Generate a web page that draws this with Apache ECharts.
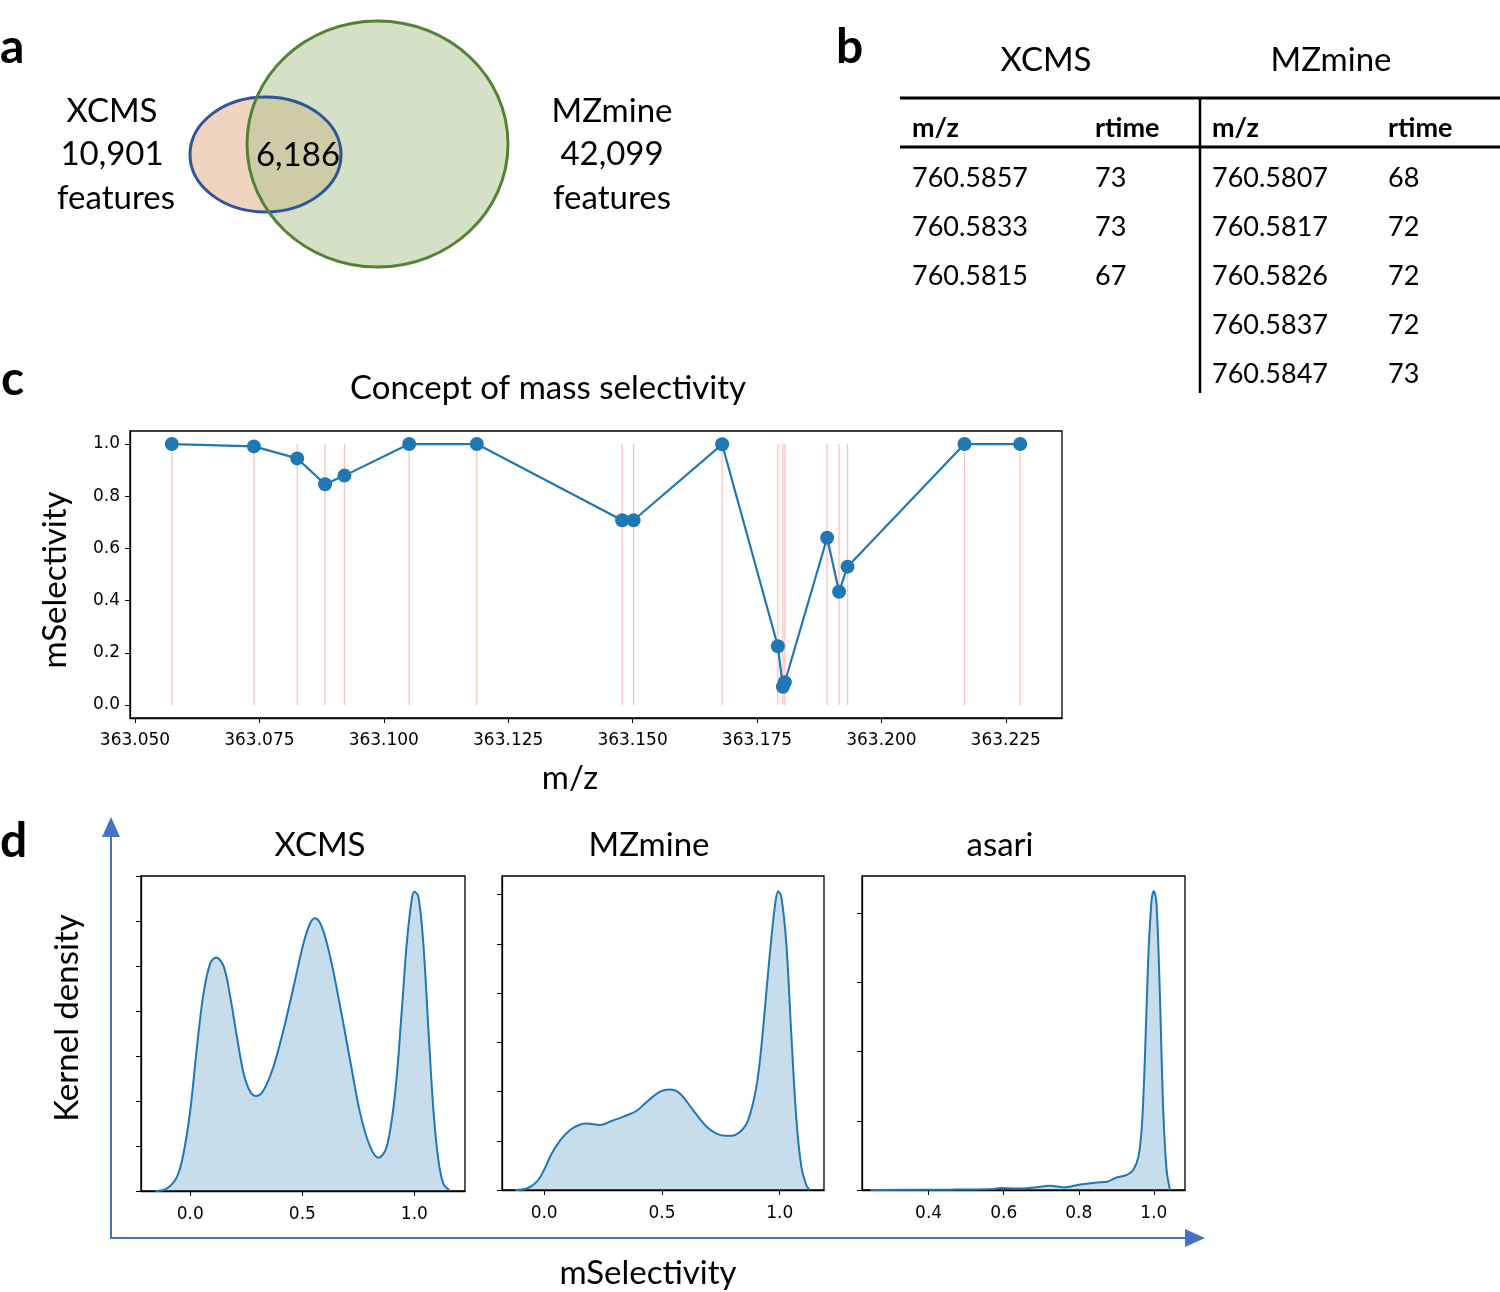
<!DOCTYPE html>
<html>
<head>
<meta charset="utf-8">
<script src="https://cdn.jsdelivr.net/npm/echarts@6/dist/echarts.min.js"></script>
<style>
html,body{margin:0;padding:0;background:#fff;}
#main{width:1500px;height:1292px;}
</style>
</head>
<body>
<div id="main"></div>
<script>
// ---------- Panel a: Venn ----------
const vennNames = ['XCMS', 'MZmine'];
const vennTotals = ['10,901', '42,099'];
const vennOverlap = '6,186';

// ---------- Panel b: table ----------
const tableGroups = ['XCMS', 'MZmine'];
const tableColumns = ['m/z', 'rtime'];
const xcmsMz = ['760.5857', '760.5833', '760.5815'];
const xcmsRt = ['73', '73', '67'];
const mzmineMz = ['760.5807', '760.5817', '760.5826', '760.5837', '760.5847'];
const mzmineRt = ['68', '72', '72', '72', '73'];

// ---------- Panel c: mass selectivity ----------
const selMz = [363.0574, 363.0739, 363.0826, 363.0882, 363.0921, 363.1051, 363.1187,
               363.1479, 363.1502, 363.1680, 363.1792, 363.1802, 363.1806,
               363.1891, 363.1915, 363.1932, 363.2167, 363.2279];
const selValue = [1.0, 0.991, 0.945, 0.846, 0.879, 1.0, 1.0,
                  0.708, 0.708, 0.999, 0.225, 0.070, 0.087,
                  0.641, 0.434, 0.530, 1.0, 1.0];
const mzTicks = [363.050, 363.075, 363.100, 363.125, 363.150, 363.175, 363.200, 363.225];
const selTicks = [0.0, 0.2, 0.4, 0.6, 0.8, 1.0];

// ---------- Panel d: kernel densities ----------
const xcmsKdeX = [-0.156, -0.104, -0.059, -0.03, 0.0, 0.030, 0.059, 0.089, 0.116, 0.149, 0.178, 0.208, 0.238, 0.267, 0.293,
  0.327, 0.371, 0.416, 0.461, 0.505, 0.535, 0.557, 0.587, 0.624, 0.669, 0.713, 0.758, 0.802, 0.840,
  0.877, 0.914, 0.944, 0.966, 0.988, 1.0, 1.018, 1.040, 1.062, 1.085, 1.107, 1.129, 1.156];
const xcmsKdeY = [0, 0.06, 0.32, 0.84, 1.8, 3.21, 4.39, 5.06, 5.19, 4.99, 4.32, 3.43, 2.61, 2.21, 2.11,
  2.24, 2.76, 3.58, 4.54, 5.50, 5.95, 6.06, 5.87, 5.21, 4.10, 2.91, 1.73, 0.99, 0.74,
  0.99, 2.17, 4.02, 5.50, 6.47, 6.65, 6.54, 5.50, 3.65, 1.80, 0.69, 0.17, 0.02];
const mzmineKdeX = [-0.123, -0.073, -0.031, 0.0, 0.032, 0.068, 0.110, 0.153, 0.181, 0.237, 0.280, 0.336, 0.393, 0.435,
  0.492, 0.534, 0.576, 0.633, 0.689, 0.746, 0.788, 0.831, 0.866, 0.901, 0.922, 0.944, 0.965, 0.983,
  0.994, 1.007, 1.028, 1.049, 1.071, 1.092, 1.113, 1.127];
const mzmineKdeY = [0, 0.03, 0.17, 0.41, 0.74, 1.01, 1.22, 1.33, 1.35, 1.32, 1.39, 1.49, 1.61, 1.79,
  2.0, 2.04, 1.96, 1.62, 1.29, 1.12, 1.10, 1.18, 1.42, 2.10, 2.91, 4.06, 5.14, 5.89,
  6.07, 5.95, 5.01, 3.18, 1.42, 0.47, 0.10, 0];
const asariKdeX = [0.245, 0.458, 0.573, 0.591, 0.635, 0.688, 0.724, 0.759, 0.804, 0.848, 0.875, 0.901, 0.928,
  0.945, 0.959, 0.968, 0.976, 0.985, 0.994, 1.0, 1.007, 1.016, 1.025, 1.034, 1.043];
const asariKdeY = [0, 0.005, 0.015, 0.03, 0.02, 0.04, 0.06, 0.04, 0.08, 0.11, 0.12, 0.18, 0.22,
  0.29, 0.48, 0.92, 1.88, 3.33, 4.19, 4.32, 4.14, 2.84, 1.16, 0.29, 0];
const kdeTitles = ['XCMS', 'MZmine', 'asari'];
const kdeTicksX = [[0, 0.5, 1.0], [0, 0.5, 1.0], [0.4, 0.6, 0.8, 1.0]];
const kdeTicksY = [[0, 1, 2, 3, 4, 5, 6, 7], [0, 1, 2, 3, 4, 5, 6], [0, 1, 2, 3, 4]];

// ---------- build ----------
const BIG = '33px Lato';
const TICKFONT = 'DejaVu Sans';
const chart = echarts.init(document.getElementById('main'), null, {renderer: 'canvas'});

function txt(x, y, text, font, align, extra) {
  return Object.assign({
    type: 'text', x: x, y: y, silent: true,
    style: {text: text, font: font, fill: '#000', align: align || 'center', verticalAlign: 'middle',
            textAlign: align || 'center', textVerticalAlign: 'middle'}
  }, extra || {});
}

const graphics = [];
// panel letters
graphics.push(txt(0, 48, 'a', 'bold 48px Lato', 'left'));
graphics.push(txt(836, 48, 'b', 'bold 48px Lato', 'left'));
graphics.push(txt(1, 380, 'c', 'bold 48px Lato', 'left'));
graphics.push(txt(0, 842, 'd', 'bold 48px Lato', 'left'));

// Venn
graphics.push({type: 'ellipse', silent: true, z: 1, shape: {cx: 265.5, cy: 154.5, rx: 75.5, ry: 57.5},
  style: {fill: '#f1d4c0', stroke: null}});
graphics.push({type: 'ellipse', silent: true, z: 2, shape: {cx: 377.5, cy: 144, rx: 130.5, ry: 123},
  style: {fill: 'rgba(169,196,142,0.5)', stroke: null}});
graphics.push({type: 'ellipse', silent: true, z: 3, shape: {cx: 265.5, cy: 154.5, rx: 75.5, ry: 57.5},
  style: {fill: null, stroke: '#2f5597', lineWidth: 3}});
graphics.push({type: 'ellipse', silent: true, z: 3, shape: {cx: 377.5, cy: 144, rx: 130.5, ry: 123},
  style: {fill: null, stroke: '#548235', lineWidth: 3}});
const vennX = [112, 612];
vennNames.forEach((n, i) => {
  graphics.push(txt(vennX[i], 111, n, BIG));
  graphics.push(txt(vennX[i], 154, vennTotals[i], BIG));
  graphics.push(txt(vennX[i] + (i === 0 ? 4 : 0), 198, 'features', BIG));
});
graphics.push(txt(298, 155, vennOverlap, BIG, 'center', {z: 5}));

// Table
const groupCx = [1046, 1331];
const colX = [[912, 1095], [1212, 1388]];
tableGroups.forEach((g, i) => {
  graphics.push(txt(groupCx[i], 60, g, BIG));
  tableColumns.forEach((c, j) => graphics.push(txt(colX[i][j], 128, c, 'bold 27px Lato', 'left')));
});
const tableData = [[xcmsMz, xcmsRt], [mzmineMz, mzmineRt]];
tableData.forEach((grp, i) => {
  grp[0].forEach((v, r) => {
    graphics.push(txt(colX[i][0], 178 + r * 49, v, '27px Lato', 'left'));
    graphics.push(txt(colX[i][1], 178 + r * 49, grp[1][r], '27px Lato', 'left'));
  });
});
graphics.push({type: 'line', silent: true, shape: {x1: 900, y1: 98, x2: 1500, y2: 98}, style: {stroke: '#000', lineWidth: 3}});
graphics.push({type: 'line', silent: true, shape: {x1: 900, y1: 147, x2: 1500, y2: 147}, style: {stroke: '#000', lineWidth: 3}});
graphics.push({type: 'line', silent: true, shape: {x1: 1200, y1: 98, x2: 1200, y2: 393}, style: {stroke: '#000', lineWidth: 2.5}});

// Panel c texts
graphics.push(txt(548, 388, 'Concept of mass selectivity', BIG));
graphics.push(txt(55, 580, 'mSelectivity', BIG, 'center', {rotation: Math.PI / 2}));
graphics.push(txt(570, 778, 'm/z', BIG));

// Panel d texts & arrows
const kdeTitleX = [320, 649, 1000];
kdeTitles.forEach((t, i) => graphics.push(txt(kdeTitleX[i], 845, t, BIG)));
graphics.push(txt(67, 1018, 'Kernel density', BIG, 'center', {rotation: Math.PI / 2}));
graphics.push(txt(648, 1273, 'mSelectivity', BIG));
const ARROW = '#4472c4';
graphics.push({type: 'line', silent: true, shape: {x1: 111, y1: 1238, x2: 111, y2: 834}, style: {stroke: ARROW, lineWidth: 2}});
graphics.push({type: 'polygon', silent: true, shape: {points: [[111, 817], [102, 837], [120, 837]]}, style: {fill: ARROW}});
graphics.push({type: 'line', silent: true, shape: {x1: 110, y1: 1238, x2: 1188, y2: 1238}, style: {stroke: ARROW, lineWidth: 2}});
graphics.push({type: 'polygon', silent: true, shape: {points: [[1205, 1238], [1185, 1229], [1185, 1247]]}, style: {fill: ARROW}});

// grids
const grids = [
  {left: 130, top: 431, width: 932, height: 287},
  {left: 141, top: 876, width: 324, height: 315},
  {left: 502, top: 876, width: 322, height: 314},
  {left: 862, top: 876, width: 323, height: 314}
].map(g => Object.assign(g, {show: true, borderColor: '#000', borderWidth: 1.3, backgroundColor: 'transparent'}));

function xAx(idx, min, max, ticks, dec, margin) {
  return {
    gridIndex: idx, type: 'value', min: min, max: max,
    axisLine: {show: true, onZero: false, lineStyle: {color: '#000', width: 1.3}},
    axisTick: {show: true, inside: false, length: 5, customValues: ticks, lineStyle: {color: '#000', width: 1}},
    axisLabel: {show: true, customValues: ticks, formatter: v => Number(v).toFixed(dec),
      fontFamily: TICKFONT, fontSize: 17, color: '#000', margin: margin},
    splitLine: {show: false}
  };
}
function yAx(idx, min, max, ticks, showLabel) {
  return {
    gridIndex: idx, type: 'value', min: min, max: max,
    axisLine: {show: true, onZero: false, lineStyle: {color: '#000', width: 1.3}},
    axisTick: {show: true, inside: false, length: 5, customValues: ticks, lineStyle: {color: '#000', width: 1}},
    axisLabel: {show: showLabel, customValues: ticks, formatter: v => Number(v).toFixed(1),
      fontFamily: TICKFONT, fontSize: 17, color: '#000', margin: 10},
    splitLine: {show: false}
  };
}

const xAxes = [
  xAx(0, 363.0490, 363.2363, mzTicks, 3, 14),
  xAx(1, -0.22, 1.226, kdeTicksX[0], 1, 15),
  xAx(2, -0.179, 1.188, kdeTicksX[1], 1, 15),
  xAx(3, 0.2226, 1.083, kdeTicksX[2], 1, 15)
];
const yAxes = [
  yAx(0, -0.05, 1.05, selTicks, true),
  yAx(1, 0, 7.0, kdeTicksY[0], false),
  yAx(2, 0, 6.38, kdeTicksY[1], false),
  yAx(3, 0, 4.54, kdeTicksY[2], false)
];

function kdeSeries(idx, xs, ys) {
  return {
    type: 'line', xAxisIndex: idx, yAxisIndex: idx, data: xs.map((x, i) => [x, ys[i]]),
    showSymbol: false, smooth: 0.35, silent: true,
    lineStyle: {color: '#1f77b4', width: 2}, itemStyle: {color: '#1f77b4'},
    areaStyle: {color: '#1f77b4', opacity: 0.25}
  };
}

const series = [
  {
    type: 'custom', xAxisIndex: 0, yAxisIndex: 0, silent: true, z: 1,
    data: selMz.map(x => [x, 0]),
    renderItem: function (params, api) {
      const x = api.value(0);
      const p0 = api.coord([x, 0]);
      const p1 = api.coord([x, 1]);
      return {type: 'line', shape: {x1: p0[0], y1: p0[1], x2: p1[0], y2: p1[1]},
        style: {stroke: 'rgba(255,0,0,0.25)', lineWidth: 1.3}};
    }
  },
  {
    type: 'line', xAxisIndex: 0, yAxisIndex: 0, z: 3, silent: true,
    data: selMz.map((x, i) => [x, selValue[i]]),
    symbol: 'circle', symbolSize: 14, showSymbol: true,
    lineStyle: {color: '#1f77b4', width: 2.2}, itemStyle: {color: '#1f77b4'}
  },
  kdeSeries(1, xcmsKdeX, xcmsKdeY),
  kdeSeries(2, mzmineKdeX, mzmineKdeY),
  kdeSeries(3, asariKdeX, asariKdeY)
];

chart.setOption({
  backgroundColor: '#fff',
  animation: false,
  grid: grids,
  xAxis: xAxes,
  yAxis: yAxes,
  series: series,
  graphic: {elements: graphics}
});
</script>
</body>
</html>
